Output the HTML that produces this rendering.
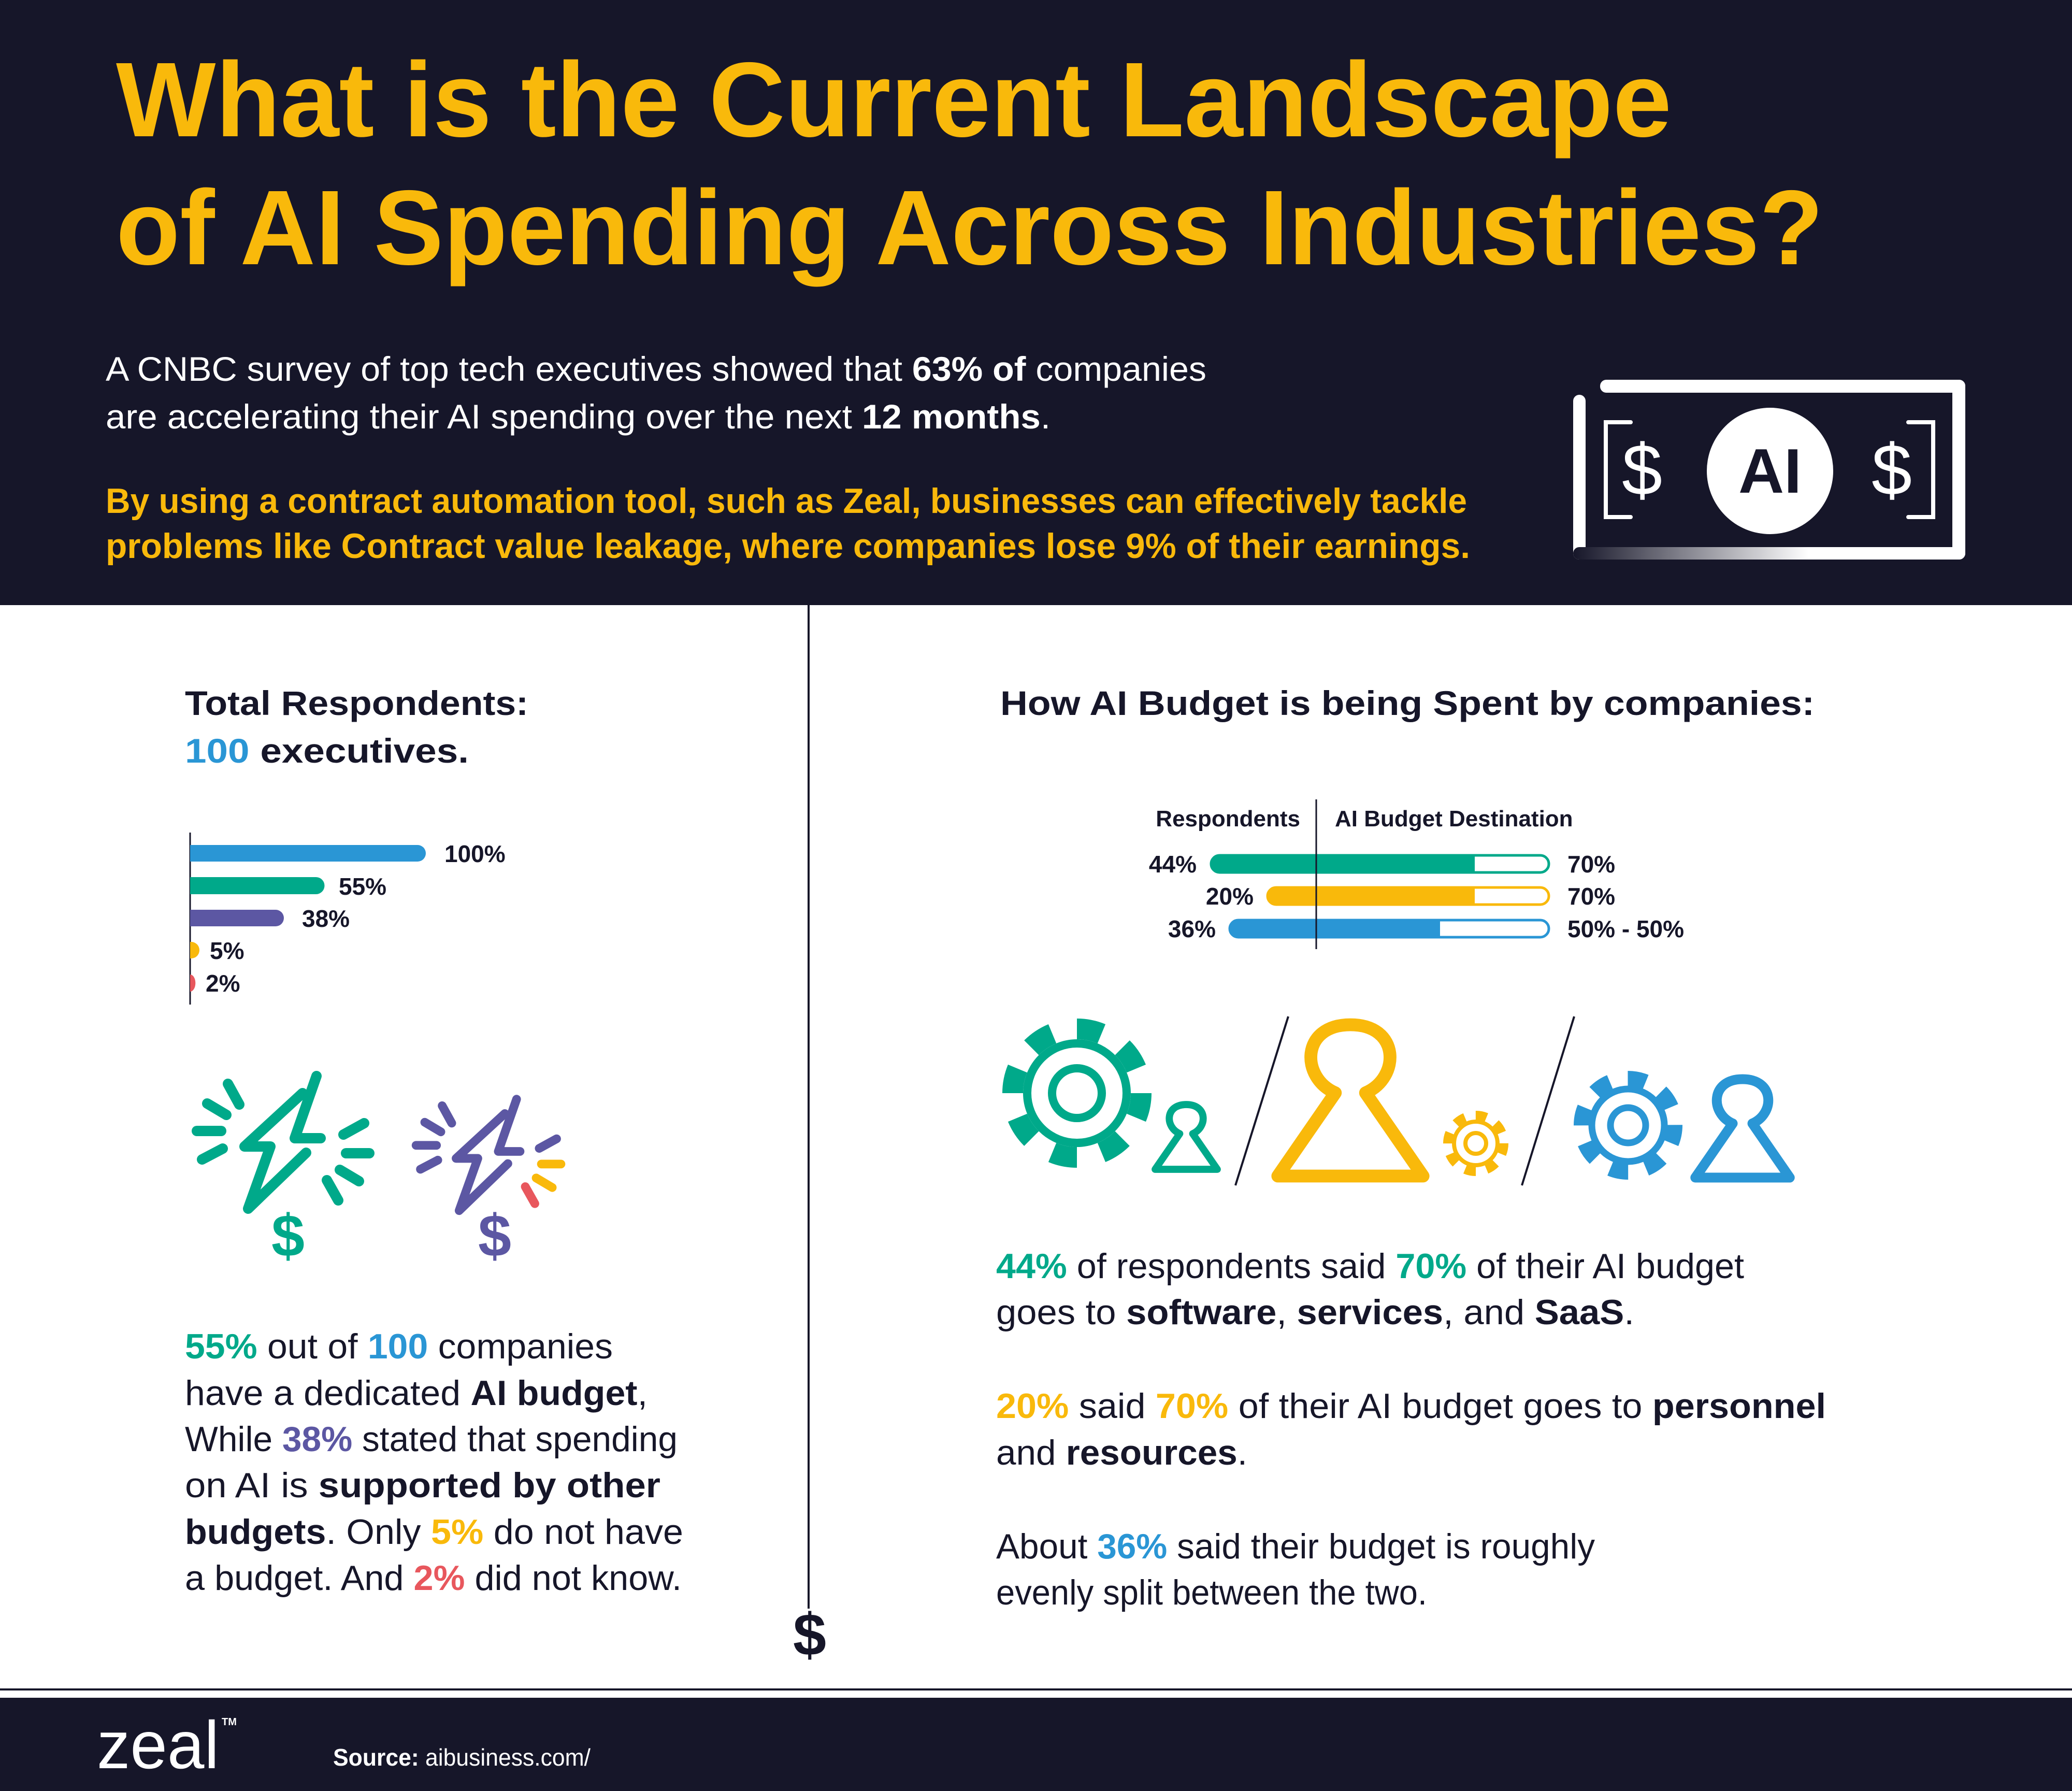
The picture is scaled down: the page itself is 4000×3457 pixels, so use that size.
<!DOCTYPE html>
<html><head><meta charset="utf-8"><style>
html,body{margin:0;padding:0;background:#fff;}
svg{display:block;}
text{font-family:"Liberation Sans",sans-serif;}
</style></head><body>
<svg width="4000" height="3457" viewBox="0 0 4000 3457" xmlns="http://www.w3.org/2000/svg">
<defs>
<linearGradient id="bg1" x1="0" x2="1" y1="0" y2="0">
<stop offset="0" stop-color="#161629"/><stop offset="0.6" stop-color="#fff"/>
</linearGradient>
</defs>
<!-- header -->
<rect x="0" y="0" width="4000" height="1168" fill="#161629"/>
<text x="224" y="263" font-size="205" font-weight="bold" fill="#f9b90b" textLength="3003" lengthAdjust="spacingAndGlyphs">What is the Current Landscape</text>
<text x="224" y="510" font-size="205" font-weight="bold" fill="#f9b90b" textLength="3296" lengthAdjust="spacingAndGlyphs">of AI Spending Across Industries?</text>
<text x="204" y="735" font-size="66" fill="#fff" textLength="2125" lengthAdjust="spacingAndGlyphs">A CNBC survey of top tech executives showed that <tspan font-weight="bold">63% of</tspan> companies</text>
<text x="204" y="827" font-size="66" fill="#fff" textLength="1824" lengthAdjust="spacingAndGlyphs">are accelerating their AI spending over the next <tspan font-weight="bold">12 months</tspan>.</text>
<text x="204" y="990" font-size="68" font-weight="bold" fill="#f9b90b" textLength="2628" lengthAdjust="spacingAndGlyphs">By using a contract automation tool, such as Zeal, businesses can effectively tackle</text>
<text x="204" y="1077" font-size="68" font-weight="bold" fill="#f9b90b" textLength="2634" lengthAdjust="spacingAndGlyphs">problems like Contract value leakage, where companies lose 9% of their earnings.</text>

<!-- money icon -->
<rect x="3089" y="733" width="705" height="25" rx="12" fill="#fff"/>
<rect x="3037" y="762" width="24" height="318" rx="12" fill="#fff"/>
<rect x="3769" y="733" width="25" height="347" rx="12" fill="#fff"/>
<rect x="3037" y="1056" width="757" height="24" rx="12" fill="url(#bg1)"/>
<circle cx="3417" cy="909" r="122" fill="#fff"/>
<text x="3417" y="951" font-size="122" font-weight="bold" fill="#161629" text-anchor="middle">AI</text>
<path d="M3148 815 H3100 V998 H3148" stroke="#fff" stroke-width="8" fill="none" stroke-linecap="round"/>
<path d="M3684 815 H3732 V998 H3684" stroke="#fff" stroke-width="8" fill="none" stroke-linecap="round"/>
<text x="3170" y="955" font-size="140" fill="#fff" text-anchor="middle">$</text>
<text x="3652" y="955" font-size="140" fill="#fff" text-anchor="middle">$</text>

<!-- divider -->
<line x1="1561" y1="1168" x2="1561" y2="3105" stroke="#161629" stroke-width="4"/>
<text x="1563" y="3195" font-size="115" font-weight="bold" fill="#161629" text-anchor="middle">$</text>

<!-- left -->
<text x="357" y="1380" font-size="66" font-weight="bold" fill="#161629" textLength="663" lengthAdjust="spacingAndGlyphs">Total Respondents:</text>
<text x="357" y="1472" font-size="66" font-weight="bold" fill="#161629" textLength="548" lengthAdjust="spacingAndGlyphs"><tspan fill="#2a96d5">100</tspan> executives.</text>
<line x1="367" y1="1607" x2="367" y2="1939" stroke="#161629" stroke-width="3"/>
<path d="M367 1631 H806 A16 16 0 0 1 806 1663 H367 Z" fill="#2a96d5"/>
<path d="M367 1693 H610 A16 16 0 0 1 610 1726 H367 Z" fill="#00a98a"/>
<path d="M367 1756 H532 A16 16 0 0 1 532 1788 H367 Z" fill="#5c57a3"/>
<path d="M367 1818 H369 A16 16 0 0 1 369 1850 H367 Z" fill="#f9b90b"/>
<path d="M367 1881 A10 16 0 0 1 367 1914 Z" fill="#e8575d"/>
<g font-size="46" font-weight="bold" fill="#161629">
<text x="858" y="1664">100%</text>
<text x="654" y="1727">55%</text>
<text x="583" y="1789">38%</text>
<text x="405" y="1851">5%</text>
<text x="397" y="1914">2%</text>
</g>

<!-- lightning icons -->
<g stroke="#00a98a" stroke-width="20" stroke-linecap="round" stroke-linejoin="round" fill="none">
<polyline points="584,2110 472,2213 522,2213 479,2333 591,2225"/>
<polyline points="611,2077 569,2197 619,2197"/>
<line x1="440" y1="2092" x2="462" y2="2132"/>
<line x1="400" y1="2130" x2="437" y2="2152"/>
<line x1="380" y1="2183" x2="427" y2="2183"/>
<line x1="390" y1="2238" x2="430" y2="2217"/>
<line x1="663" y1="2190" x2="703" y2="2168"/>
<line x1="668" y1="2226" x2="713" y2="2226"/>
<line x1="656" y1="2258" x2="693" y2="2280"/>
<line x1="631" y1="2278" x2="653" y2="2317"/>
</g>
<g transform="translate(484,377) scale(0.84)" stroke-width="20" stroke-linecap="round" stroke-linejoin="round" fill="none">
<g stroke="#5c57a3">
<polyline points="584,2110 472,2213 522,2213 479,2333 591,2225"/>
<polyline points="611,2077 569,2197 619,2197"/>
<line x1="440" y1="2092" x2="462" y2="2132"/>
<line x1="400" y1="2130" x2="437" y2="2152"/>
<line x1="380" y1="2183" x2="427" y2="2183"/>
<line x1="390" y1="2238" x2="430" y2="2217"/>
<line x1="663" y1="2190" x2="703" y2="2168"/>
</g>
<line x1="668" y1="2226" x2="713" y2="2226" stroke="#f9b90b"/>
<line x1="656" y1="2258" x2="693" y2="2280" stroke="#f9b90b"/>
<line x1="631" y1="2278" x2="653" y2="2317" stroke="#e8575d"/>
</g>
<text x="556" y="2425" font-size="115" font-weight="bold" fill="#00a98a" text-anchor="middle">$</text>
<text x="955" y="2425" font-size="115" font-weight="bold" fill="#5c57a3" text-anchor="middle">$</text>

<g font-size="68" fill="#161629">
<text x="357" y="2622" textLength="826" lengthAdjust="spacingAndGlyphs"><tspan fill="#00a98a" font-weight="bold">55%</tspan> out of <tspan fill="#2a96d5" font-weight="bold">100</tspan> companies</text>
<text x="357" y="2712" textLength="893" lengthAdjust="spacingAndGlyphs">have a dedicated <tspan font-weight="bold">AI budget</tspan>,</text>
<text x="357" y="2801" textLength="951" lengthAdjust="spacingAndGlyphs">While <tspan fill="#5c57a3" font-weight="bold">38%</tspan> stated that spending</text>
<text x="357" y="2890" textLength="918" lengthAdjust="spacingAndGlyphs">on AI is <tspan font-weight="bold">supported by other</tspan></text>
<text x="357" y="2980" textLength="962" lengthAdjust="spacingAndGlyphs"><tspan font-weight="bold">budgets</tspan>. Only <tspan fill="#f9b90b" font-weight="bold">5%</tspan> do not have</text>
<text x="357" y="3069" textLength="959" lengthAdjust="spacingAndGlyphs">a budget. And <tspan fill="#e8575d" font-weight="bold">2%</tspan> did not know.</text>
</g>

<!-- right -->
<text x="1931" y="1380" font-size="66" font-weight="bold" fill="#161629" textLength="1572" lengthAdjust="spacingAndGlyphs">How AI Budget is being Spent by companies:</text>
<text x="2510" y="1595" font-size="44" font-weight="bold" fill="#161629" text-anchor="end">Respondents</text>
<text x="2577" y="1595" font-size="44" font-weight="bold" fill="#161629">AI Budget Destination</text>
<!-- bars -->
<rect x="2338" y="1651" width="652" height="33" rx="16.5" fill="#fff" stroke="#00a98a" stroke-width="5"/>
<path d="M2354 1651 H2847 V1684 H2354 A16.5 16.5 0 0 1 2354 1651 Z" fill="#00a98a"/>
<rect x="2447" y="1713" width="543" height="33" rx="16.5" fill="#fff" stroke="#f9b90b" stroke-width="5"/>
<path d="M2463 1713 H2847 V1746 H2463 A16.5 16.5 0 0 1 2463 1713 Z" fill="#f9b90b"/>
<rect x="2374" y="1776" width="616" height="33" rx="16.5" fill="#fff" stroke="#2a96d5" stroke-width="5"/>
<path d="M2390 1776 H2780 V1809 H2390 A16.5 16.5 0 0 1 2390 1776 Z" fill="#2a96d5"/>
<line x1="2541" y1="1543" x2="2541" y2="1832" stroke="#161629" stroke-width="3"/>
<g font-size="46" font-weight="bold" fill="#161629">
<text x="2310" y="1684" text-anchor="end">44%</text>
<text x="2420" y="1746" text-anchor="end">20%</text>
<text x="2347" y="1809" text-anchor="end">36%</text>
<text x="3026" y="1684">70%</text>
<text x="3026" y="1746">70%</text>
<text x="3026" y="1809">50% - 50%</text>
</g>

<!-- gears & persons -->
<g fill="none">
<g stroke="#00a98a">
<circle cx="2079" cy="2110" r="96" stroke-width="16"/>
<circle cx="2079" cy="2110" r="48" stroke-width="16"/>
<circle cx="2079" cy="2110" r="124" stroke-width="40" pathLength="16" stroke-dasharray="1 1"/>
</g>
<g stroke="#f9b90b">
<circle cx="2849" cy="2207" r="42" stroke-width="8"/>
<circle cx="2849" cy="2207" r="20" stroke-width="8"/>
<circle cx="2849" cy="2207" r="54" stroke-width="18" pathLength="16" stroke-dasharray="1 1"/>
</g>
<g stroke="#2a96d5">
<circle cx="3143" cy="2172" r="70" stroke-width="13"/>
<circle cx="3143" cy="2172" r="34" stroke-width="13"/>
<circle cx="3143" cy="2172" r="90" stroke-width="30" pathLength="16" stroke-dasharray="1 1"/>
</g>
<path transform="translate(2607,1978) scale(292)" d="M-0.1 0.45 C-0.33 0.35 -0.33 0 0 0 C0.33 0 0.33 0.35 0.1 0.45 L0.48 1 L-0.48 1 Z" stroke="#f9b90b" stroke-width="0.085" stroke-linejoin="round"/>
<path transform="translate(2290,2132) scale(125)" d="M-0.1 0.45 C-0.33 0.35 -0.33 0 0 0 C0.33 0 0.33 0.35 0.1 0.45 L0.48 1 L-0.48 1 Z" stroke="#00a98a" stroke-width="0.11" stroke-linejoin="round"/>
<path transform="translate(3364,2083) scale(190)" d="M-0.1 0.45 C-0.33 0.35 -0.33 0 0 0 C0.33 0 0.33 0.35 0.1 0.45 L0.48 1 L-0.48 1 Z" stroke="#2a96d5" stroke-width="0.1" stroke-linejoin="round"/>
<line x1="2487" y1="1962" x2="2385" y2="2288" stroke="#161629" stroke-width="4"/>
<line x1="3039" y1="1962" x2="2938" y2="2288" stroke="#161629" stroke-width="4"/>
</g>

<g font-size="68" fill="#161629">
<text x="1923" y="2467" textLength="1444" lengthAdjust="spacingAndGlyphs"><tspan fill="#00a98a" font-weight="bold">44%</tspan> of respondents said <tspan fill="#00a98a" font-weight="bold">70%</tspan> of their AI budget</text>
<text x="1923" y="2556" textLength="1232" lengthAdjust="spacingAndGlyphs">goes to <tspan font-weight="bold">software</tspan>, <tspan font-weight="bold">services</tspan>, and <tspan font-weight="bold">SaaS</tspan>.</text>
<text x="1923" y="2737" textLength="1602" lengthAdjust="spacingAndGlyphs"><tspan fill="#f9b90b" font-weight="bold">20%</tspan> said <tspan fill="#f9b90b" font-weight="bold">70%</tspan> of their AI budget goes to <tspan font-weight="bold">personnel</tspan></text>
<text x="1923" y="2827" textLength="485" lengthAdjust="spacingAndGlyphs">and <tspan font-weight="bold">resources</tspan>.</text>
<text x="1923" y="3008" textLength="1156" lengthAdjust="spacingAndGlyphs">About <tspan fill="#2a96d5" font-weight="bold">36%</tspan> said their budget is roughly</text>
<text x="1923" y="3097" textLength="832" lengthAdjust="spacingAndGlyphs">evenly split between the two.</text>
</g>

<!-- footer -->
<rect x="0" y="3259" width="4000" height="4" fill="#161629"/>
<rect x="0" y="3277" width="4000" height="180" fill="#161629"/>
<text x="187" y="3413" font-size="130" fill="#fff" textLength="236" lengthAdjust="spacingAndGlyphs">zeal</text>
<text x="428" y="3330" font-size="20" font-weight="bold" fill="#fff">TM</text>
<text x="643" y="3408" font-size="46" fill="#fff" textLength="497" lengthAdjust="spacingAndGlyphs"><tspan font-weight="bold">Source:</tspan> aibusiness.com/</text>
</svg>
</body></html>
